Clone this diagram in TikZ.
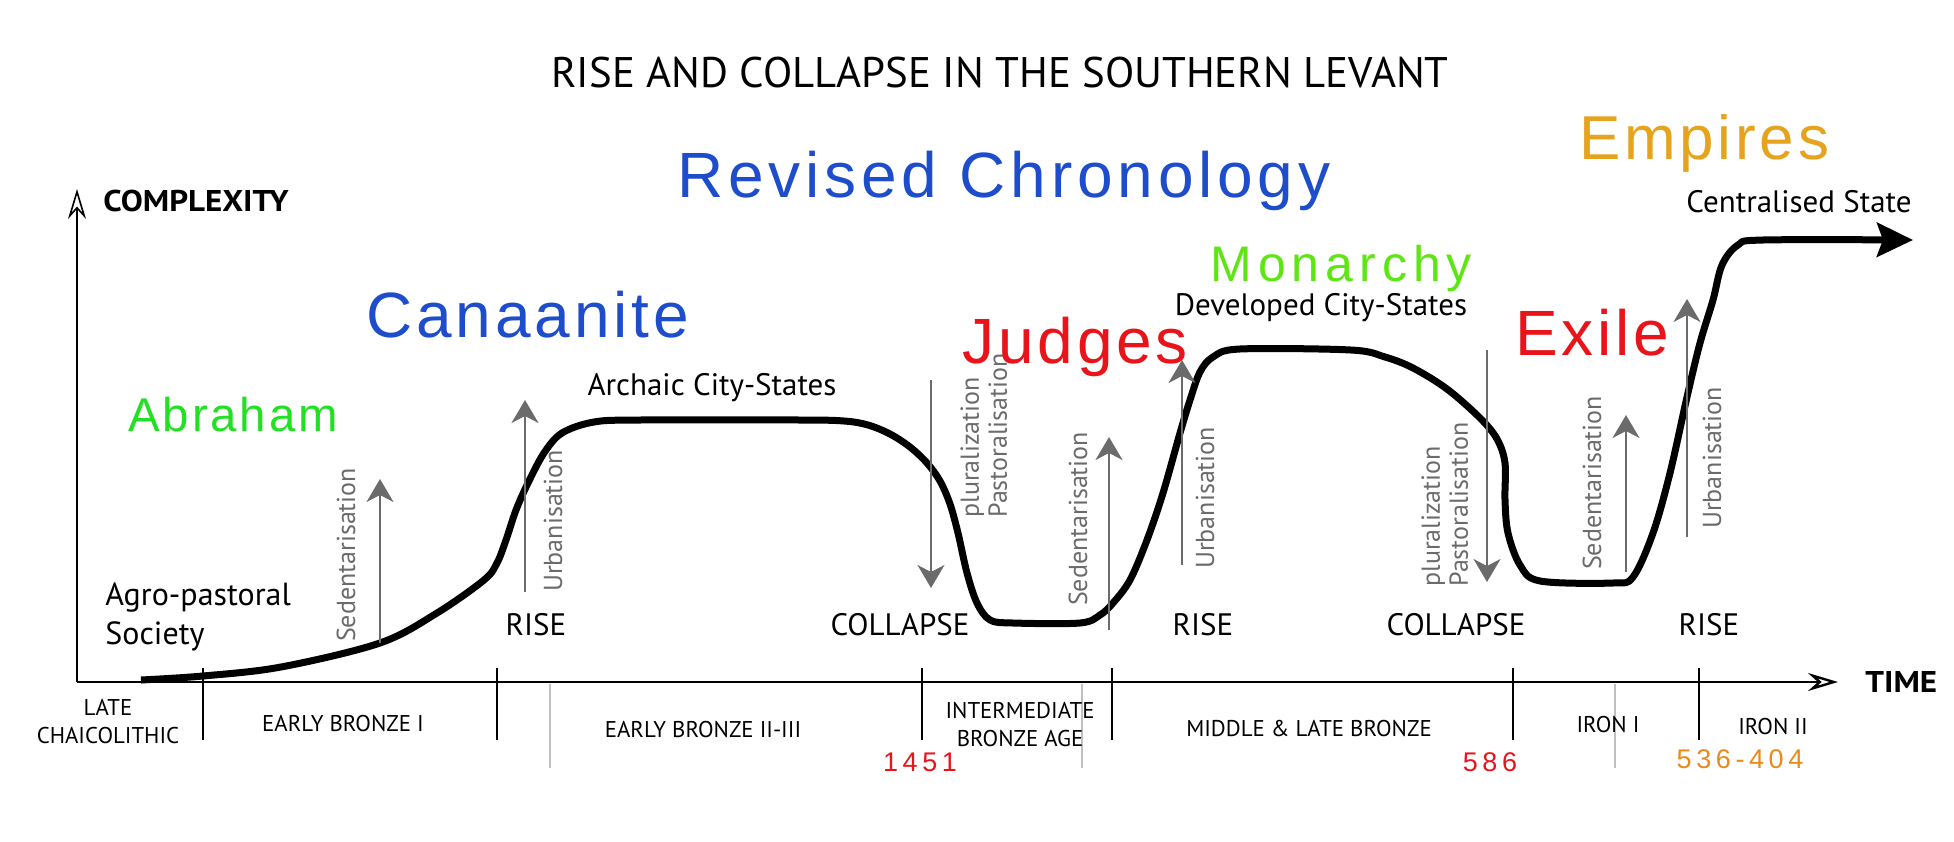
\documentclass[tikz,border=0pt]{standalone}
\usepackage{fontspec}
\setmainfont{PT Sans}
\newfontfamily\axisfont[FakeStretch=1.1]{PT Sans}
\newfontfamily\wordfont[LetterSpace=6]{Liberation Sans}
\newfontfamily\chronofont[LetterSpace=7.5]{Liberation Sans}
\newfontfamily\widewordfont[LetterSpace=12]{Liberation Sans}
\newfontfamily\yearfont[LetterSpace=17]{Liberation Sans}
\usepackage{tikz}
\usetikzlibrary{arrows.meta}
\usetikzlibrary{positioning}
\definecolor{chronoBlue}{RGB}{30,77,204}
\definecolor{abrahamGreen}{RGB}{34,224,34}
\definecolor{monarchGreen}{RGB}{94,230,20}
\definecolor{judgeRed}{RGB}{232,20,26}
\definecolor{empireGold}{RGB}{230,164,30}
\definecolor{yearOrange}{RGB}{232,138,28}
\definecolor{procGrey}{RGB}{107,107,107}
\definecolor{faintGrey}{RGB}{192,192,192}
\tikzset{
    bigword/.style={anchor=base west,inner sep=0pt,font=\wordfont\fontsize{32}{36}\selectfont},
    phaselabel/.style={anchor=base,inner sep=0pt,font=\fontsize{15.5}{18}\selectfont},
    stagelabel/.style={anchor=base,inner sep=0pt,font=\fontsize{15.5}{18}\selectfont},
    periodlabel/.style={inner sep=0pt,align=center,font=\fontsize{11.4}{14}\selectfont},
    yearlabel/.style={anchor=base,inner sep=0pt,font=\yearfont\fontsize{13.5}{15}\selectfont},
    processlabel/.style={rotate=90,inner sep=0pt,text=procGrey,align=left,font=\fontsize{13}{14}\selectfont},
    processarrow/.style={draw=procGrey,line width=1pt,-{Stealth[length=11.5pt,width=13.5pt,inset=3.5pt]}},
    axislabel/.style={inner sep=0pt,font=\axisfont\bfseries\fontsize{15}{18}\selectfont},
  }

\begin{document}
\begin{tikzpicture}[x=0.5pt,y=-0.5pt,>={Stealth[open,length=15pt,width=9pt,inset=5pt]}]
  \useasboundingbox (0,0) rectangle (1954,841);

  \node[anchor=base,inner sep=0pt,font=\fontsize{21.4}{24}\selectfont] (title) at (1000,87) {RISE AND COLLAPSE IN THE SOUTHERN LEVANT};

  % axes
  \coordinate (origin) at (77,682);
  \coordinate (cpxend) at (77,189);
  \coordinate (timeend) at (1838,682);
  \draw[->,line width=0.8pt] (origin) -- (cpxend);
  \draw[->,line width=1.2pt] (origin) -- (timeend);
  \node[axislabel,anchor=base west] (complexity) at (103,211) {COMPLEXITY};
  \node[axislabel,right=13.5pt of timeend] (time) {TIME};

  \foreach \tx in {203,497,922,1112,1513,1699}
    \draw[line width=1pt] (\tx,668) -- (\tx,740);
  \foreach \gx in {550,1082,1615}
    \draw[faintGrey,line width=1pt] (\gx,684) -- (\gx,768);

  % the complexity curve
  \draw[line width=3.5pt,line join=round,-{Stealth[length=18pt,width=17pt,inset=3pt]}]
    plot[smooth,tension=0.55] coordinates {(141,680) (203,676) (281,667) (380,643) (437,613)
    (484,580) (497,563) (506,540) (516,510) (528,483) (544,453) (562,433) (594,422) (640,420)
    (800,420) (844,421) (868,425) (890,434) (910,447) (927,463) (940,481) (950,504) (958,533)
    (967,573) (977,603) (990,620) (1013,623) (1080,623) (1100,615) (1113,603) (1130,580)
    (1147,540) (1163,493) (1180,433) (1190,400) (1200,372) (1213,357) (1240,349) (1351,350)
    (1385,357) (1413,368) (1447,389) (1480,418) (1497,439) (1505,463) (1505,500) (1508,533)
    (1520,565) (1540,581) (1613,583) (1633,577) (1653,533) (1670,473) (1687,397) (1700,343)
    (1713,300) (1722,265) (1738,245) (1763,240) (1913,240)};

  % processes
  \coordinate (sedA1) at (380,643); \coordinate (sedA2) at (380,479);
  \coordinate (urbA1) at (525,592); \coordinate (urbA2) at (525,400);
  \coordinate (colA1) at (931,380); \coordinate (colA2) at (931,588);
  \coordinate (sedB1) at (1109,630); \coordinate (sedB2) at (1109,437);
  \coordinate (urbB1) at (1182,565); \coordinate (urbB2) at (1182,360);
  \coordinate (colB1) at (1487,350); \coordinate (colB2) at (1487,582);
  \coordinate (sedC1) at (1626,572); \coordinate (sedC2) at (1626,415);
  \coordinate (urbC1) at (1687,537); \coordinate (urbC2) at (1687,299);
  \draw[processarrow] (sedA1) -- (sedA2);
  \draw[processarrow] (urbA1) -- (urbA2);
  \draw[processarrow] (colA1) -- (colA2);
  \draw[processarrow] (sedB1) -- (sedB2);
  \draw[processarrow] (urbB1) -- (urbB2);
  \draw[processarrow] (colB1) -- (colB2);
  \draw[processarrow] (sedC1) -- (sedC2);
  \draw[processarrow] (urbC1) -- (urbC2);
  \node[processlabel] (sedAtext) at (346,555) {Sedentarisation};
  \node[processlabel] (urbAtext) at (553,521) {Urbanisation};
  \node[processlabel,anchor=north west] (colAtext) at (960,518) {pluralization\\Pastoralisation};
  \node[processlabel] (sedBtext) at (1078,519) {Sedentarisation};
  \node[processlabel] (urbBtext) at (1205,498) {Urbanisation};
  \node[processlabel,anchor=north west] (colBtext) at (1421,587) {pluralization\\Pastoralisation};
  \node[processlabel] (sedCtext) at (1592,483) {Sedentarisation};
  \node[processlabel] (urbCtext) at (1712,458) {Urbanisation};

  % phases and stages
  \foreach \px/\ptext in {536/RISE,900/COLLAPSE,1203/RISE,1456/COLLAPSE,1709/RISE}
    \node[phaselabel] at (\px,635) {\ptext};
  \node[phaselabel,anchor=north west,align=left,font=\fontsize{16}{19.5}\selectfont] (agro) at (105,582) {Agro-pastoral\\Society};
  \node[stagelabel] (archaic) at (712,395) {Archaic City-States};
  \node[stagelabel] (developed) at (1321,315) {Developed City-States};
  \node[stagelabel] (centralised) at (1799,212) {Centralised State};

  % periods
  \node[periodlabel] (chalco) at (108,722) {LATE\\CHAICOLITHIC};
  \node[periodlabel,anchor=base] (ebI) at (343,731) {EARLY BRONZE I};
  \node[periodlabel,anchor=base] (ebII) at (703,737) {EARLY BRONZE II-III};
  \node[periodlabel] (iba) at (1020,725) {INTERMEDIATE\\BRONZE AGE};
  \node[periodlabel,anchor=base] (mlb) at (1309,736) {MIDDLE \& LATE BRONZE};
  \node[periodlabel,anchor=base] (ironI) at (1608,732) {IRON I};
  \node[periodlabel,anchor=base] (ironII) at (1773,734) {IRON II};
  \node[yearlabel,text=judgeRed] (yearA) at (920,771) {1451};
  \node[yearlabel,text=judgeRed] (yearB) at (1490,771) {586};
  \node[yearlabel,text=yearOrange] (yearC) at (1740,768) {536-404};

  % revised chronology
  \node[bigword,text=chronoBlue,font=\chronofont\fontsize{32}{36}\selectfont] (revised) at (677,197) {Revised Chronology};
  \node[bigword,text=chronoBlue] (canaanite) at (366,337) {Canaanite};
  \node[bigword,text=abrahamGreen,font=\wordfont\fontsize{23.7}{26}\selectfont] (abraham) at (128,431) {Abraham};
  \node[bigword,text=judgeRed] (judges) at (962,363) {Judges};
  \node[bigword,text=monarchGreen,font=\widewordfont\fontsize{25}{28}\selectfont] (monarchy) at (1210,281) {Monarchy};
  \node[bigword,text=judgeRed] (exile) at (1515,355) {Exile};
  \node[bigword,text=empireGold,font=\wordfont\fontsize{31}{34}\selectfont] (empires) at (1579,159) {Empires};
\end{tikzpicture}
\end{document}
